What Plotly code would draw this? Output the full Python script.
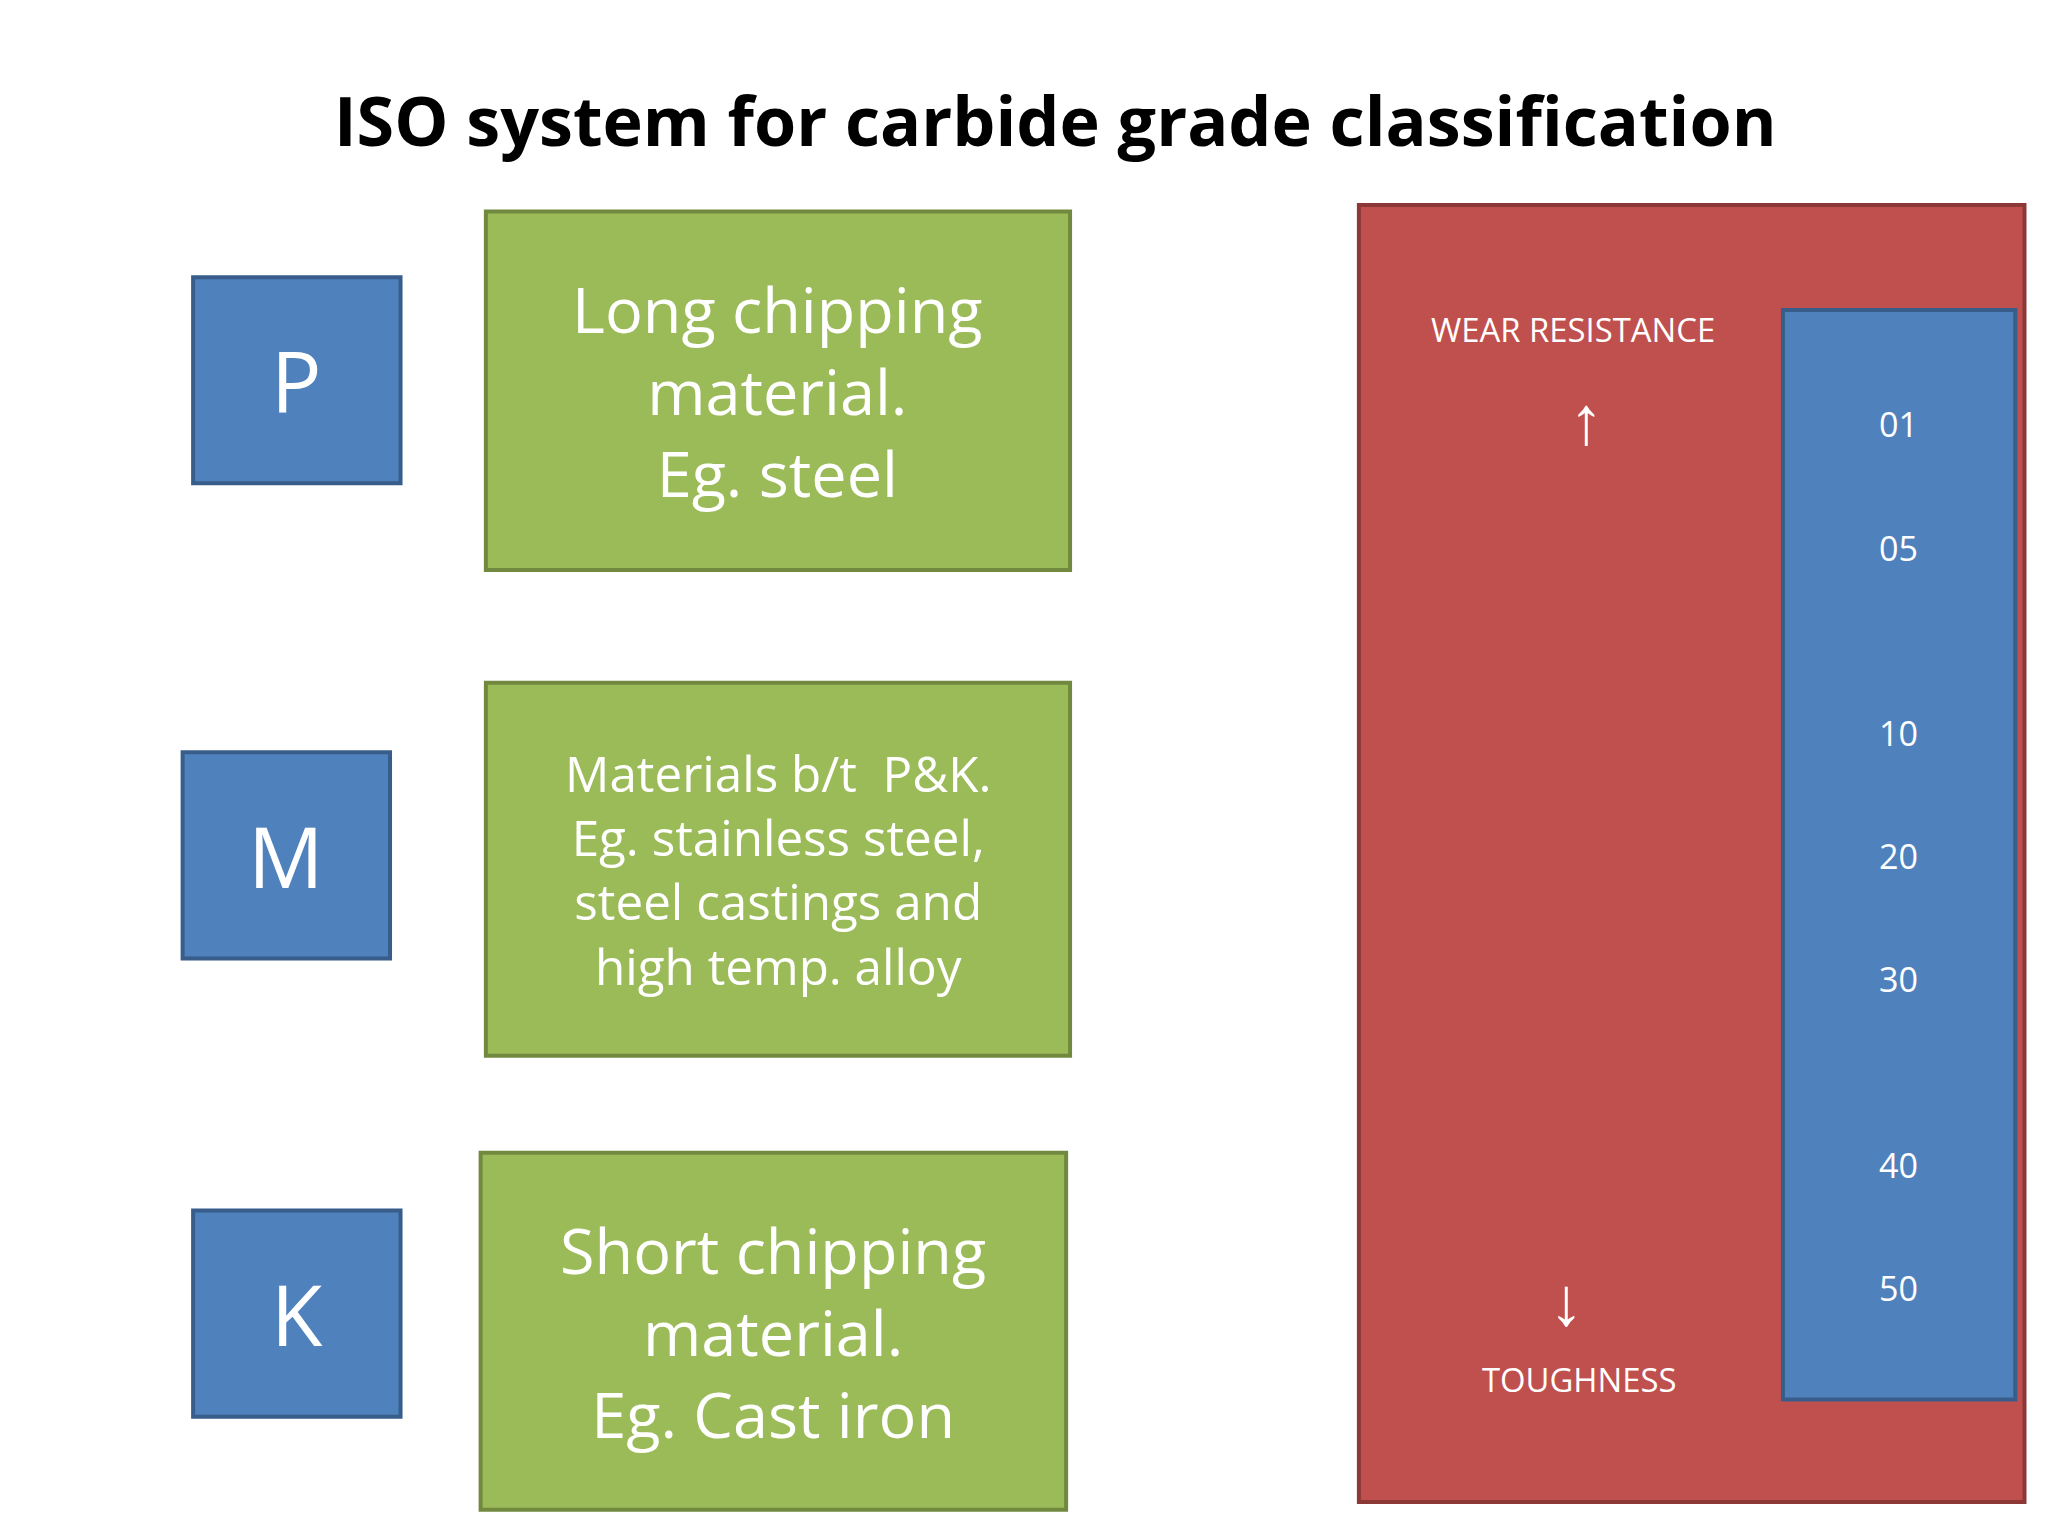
import plotly.graph_objects as go

# picture is drawn in a 1560 x 1170 coordinate space, then scaled to 2048 x 1536
W, H = 1560, 1170
s = 2048 / W

title = "ISO system for carbide grade classification"

groups = ["P", "M", "K"]
group_boxes = [(141, 205, 299, 362), (133, 567, 291, 724), (141, 916, 299, 1073)]
desc_texts = [
    "Long chipping<br>material.<br>Eg. steel",
    "Materials b/t  P&K.<br>Eg. stainless steel,<br>steel castings and<br>high temp. alloy",
    "Short chipping<br>material.<br>Eg. Cast iron",
]
desc_boxes = [(364, 155, 809, 428), (364, 514, 809, 798), (360, 872, 806, 1144)]
desc_sizes = [60, 47, 60]

grades = ["01", "05", "10", "20", "30", "40", "50"]
grade_y = [317, 411, 552, 646, 740, 881, 975]

BLUE, BLUE_EDGE = "#4F81BD", "#385D8A"
GREEN, GREEN_EDGE = "#9BBB59", "#71893F"
RED, RED_EDGE = "#C0504D", "#8C3836"
FONT = "Open Sans"

fig = go.Figure()
shapes, ann = [], []

def box(b, fill, edge):
    shapes.append(dict(type="rect", x0=b[0], y0=b[1], x1=b[2], y1=b[3],
                       fillcolor=fill, line=dict(color=edge, width=4), layer="below"))

def txt(x, y, t, size, color="white", bold=False):
    ann.append(dict(x=x, y=y, text=f"<b>{t}</b>" if bold else t, showarrow=False,
                    font=dict(family=FONT, size=size * s, color=color),
                    xanchor="center", yanchor="middle"))

txt(W / 2 + 18, 85, title, 52, "black", bold=True)

for g, b in zip(groups, group_boxes):
    box(b, BLUE, BLUE_EDGE)
    txt((b[0] + b[2]) / 2, (b[1] + b[3]) / 2, g, 64)

for t, b, fs in zip(desc_texts, desc_boxes, desc_sizes):
    box(b, GREEN, GREEN_EDGE)
    txt((b[0] + b[2]) / 2, (b[1] + b[3]) / 2, t, fs * 0.8)

box((1029, 150, 1536, 1138), RED, RED_EDGE)
box((1352, 230, 1529, 1060), BLUE, BLUE_EDGE)

for g, y in zip(grades, grade_y):
    txt(1440, y, g, 26)

txt(1192, 245, "WEAR RESISTANCE", 25)
txt(1202, 312, "↑", 52)
txt(1187, 983, "↓", 52)
txt(1197, 1045, "TOUGHNESS", 25)

fig.update_layout(
    width=2048, height=1536, margin=dict(l=0, r=0, t=0, b=0),
    plot_bgcolor="white", paper_bgcolor="white",
    xaxis=dict(range=[0, W], visible=False, fixedrange=True),
    yaxis=dict(range=[H, 0], visible=False, fixedrange=True),
    shapes=shapes, annotations=ann, showlegend=False,
)
fig.write_html("out.html")
